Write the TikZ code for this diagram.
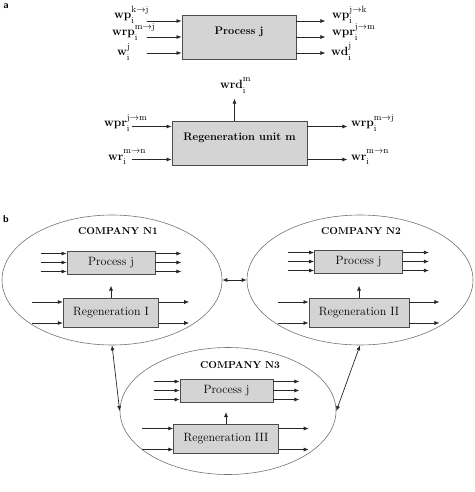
\documentclass[tikz,border=0pt]{standalone}
\usepackage{amsmath}
\usetikzlibrary{shapes.geometric,arrows.meta}
\newcommand{\wlab}[2]{$\mathbf{#1}_{\raisebox{-2pt}{$\scriptstyle\mathrm{i}$}}^{\raisebox{2pt}{$\scriptstyle\mathrm{#2}$}}$}
\tikzset{
  flow/.style = {draw=black!85, line width=0.7pt, -{Latex[length=5pt,width=4pt]}},
  dflow/.style = {flow, {Latex[length=5pt,width=4pt]}-{Latex[length=5pt,width=4pt]}},
  panel/.style = {font=\sffamily\bfseries\fontsize{10}{12}\selectfont, inner sep=0pt},
  wlabel/.style = {font=\fontsize{13}{15}\selectfont, inner sep=0pt},
  unitbox/.style = {draw=black!70, fill=black!17, line width=0.9pt, inner sep=0pt,
    font=\bfseries\fontsize{11}{13}\selectfont, text depth=13pt, minimum height=44pt},
  company/.style = {ellipse, draw=black!55, line width=0.6pt, inner sep=0pt},
  ctitle/.style = {font=\bfseries\fontsize{10}{12}\selectfont, inner sep=0pt},
  cbox/.style = {draw=black!70, fill=black!17, line width=0.8pt, inner sep=0pt,
    font=\fontsize{12}{14}\selectfont},
  procbox/.style = {cbox, minimum width=88pt, minimum height=23pt},
  regbox/.style = {cbox, inner xsep=10pt, minimum height=29pt},
}
\begin{document}
\begin{tikzpicture}[x=1pt, y=-1pt]
\useasboundingbox (0,0) rectangle (474,492);
% (a) single process and regeneration unit
\node [panel] (pa) at (6,6) {a};
\node [unitbox, minimum width=114pt] (Proc) at (239,37) {Process j};
\foreach \dy in {16,0,-16} {
  \draw [flow] ([shift={(-35pt,\dy pt)}]Proc.west) -- ([yshift=\dy pt]Proc.west);
  \draw [flow] ([yshift=\dy pt]Proc.east) -- ([shift={(29pt,\dy pt)}]Proc.east);
}
\node [wlabel, anchor=base west] (inwp) at (114,19) {\wlab{wp}{k\rightarrow j}};
\node [wlabel, anchor=base west] (inwrp) at (112,36) {\wlab{wrp}{m\rightarrow j}};
\node [wlabel, anchor=base west] (inw) at (117,56) {\wlab{w}{j}};
\node [wlabel, anchor=base west] (outwp) at (332,19) {\wlab{wp}{j\rightarrow k}};
\node [wlabel, anchor=base west] (outwpr) at (332,36) {\wlab{wpr}{j\rightarrow m}};
\node [wlabel, anchor=base west] (outwd) at (331,56) {\wlab{wd}{j}};

\node [unitbox, minimum width=135pt] (Regen) at (239.5,143) {Regeneration unit m};
\foreach \dy in {16.5,-16.5} {
  \draw [flow] ([shift={(-40pt,\dy pt)}]Regen.west) -- ([yshift=\dy pt]Regen.west);
  \draw [flow] ([yshift=\dy pt]Regen.east) -- ([shift={(40pt,\dy pt)}]Regen.east);
}
\draw [flow] ([xshift=-5pt]Regen.north) -- ([shift={(-5pt,22pt)}]Regen.north);
\node [wlabel, anchor=base west] (rwrd) at (220,89) {\wlab{wrd}{m}};
\node [wlabel, anchor=base west] (rinwpr) at (104,127) {\wlab{wpr}{j\rightarrow m}};
\node [wlabel, anchor=base west] (rinwr) at (108,160) {\wlab{wr}{m\rightarrow n}};
\node [wlabel, anchor=base west] (routwrp) at (351,127) {\wlab{wrp}{m\rightarrow j}};
\node [wlabel, anchor=base west] (routwr) at (351,160) {\wlab{wr}{m\rightarrow n}};

% (b) three companies
\node [panel] (pb) at (6,219) {b};
\node [company, minimum width=220pt, minimum height=130pt] (C1) at (112,280) {};
\node [company, minimum width=226pt, minimum height=130pt] (C2) at (360,280) {};
\node [company, minimum width=216pt, minimum height=127pt] (C3) at (228,411) {};

\node [ctitle] (T1) at (118,231) {COMPANY N1};
\node [procbox] (P1) at (111,262.5) {Process j};
\node [regbox] (R1) at (111,312.5) {Regeneration I};

\node [ctitle] (T2) at (361,231) {COMPANY N2};
\node [procbox] (P2) at (358.5,261.5) {Process j};
\node [regbox] (R2) at (359,312.5) {Regeneration II};

\node [ctitle] (T3) at (240,365) {COMPANY N3};
\node [procbox, minimum width=93pt] (P3) at (226.5,390.5) {Process j};
\node [regbox] (R3) at (226,439) {Regeneration III};

\foreach \c in {1,2,3} {
  \foreach \dy in {9,0,-9} {
    \draw [flow] ([shift={(-26pt,\dy pt)}]P\c.west) -- ([yshift=\dy pt]P\c.west);
    \draw [flow] ([yshift=\dy pt]P\c.east) -- ([shift={(26pt,\dy pt)}]P\c.east);
  }
  \foreach \dy in {10.5,-10.5} {
    \draw [flow] ([shift={(-31pt,\dy pt)}]R\c.west) -- ([yshift=\dy pt]R\c.west);
    \draw [flow] ([yshift=\dy pt]R\c.east) -- ([shift={(30pt,\dy pt)}]R\c.east);
  }
  \draw [flow] (R\c.north) -- ([yshift=12pt]R\c.north);
}

\draw [dflow] (C1.east) -- (C2.west);
\draw [dflow] (C1.south) -- (C3.west);
\draw [dflow] (C3.east) -- (C2.south);
\end{tikzpicture}
\end{document}
